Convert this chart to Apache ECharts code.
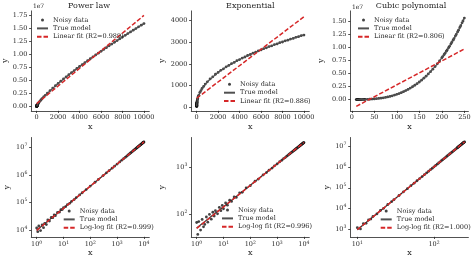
<!DOCTYPE html>
<html>
<head>
<meta charset="utf-8">
<script src="https://cdn.jsdelivr.net/npm/echarts@6/dist/echarts.min.js"></script>
<style>
html, body { margin: 0; padding: 0; background: #fff; }
#container { width: 474px; height: 261px; }
</style>
</head>
<body>
<div id="container"></div>
<script>
// x values shared by the power law and exponential panels
var xs = [1, 1.1, 1.2, 1.4, 1.6, 1.8, 2, 2.3, 2.6, 3, 3.5, 4, 4.5, 5, 6, 7, 8, 9, 10, 12, 14, 17, 20, 25, 30, 40, 50, 70,
    100, 150, 200, 300, 400, 500, 650, 800, 1000, 1250, 1500, 1750, 2000, 2250, 2500, 2750, 3000, 3250, 3500, 3750,
    4000, 4250, 4500, 4750, 5000, 5250, 5500, 5750, 6000, 6250, 6500, 6750, 7000, 7250, 7500, 7750, 8000, 8250, 8500,
    8750, 9000, 9250, 9500, 9750, 10000];
var powNoisy = [12100, 8900, 14300, 9800, 15600, 12400, 17900, 16100, 23800, 21500, 29100, 28600, 35800, 33900, 44700,
    45200, 55800, 56100, 65900, 71800, 84700, 94900, 111500, 130100, 153400, 190600, 229500, 299100, 398600, 550200,
    693500, 958400, 1207000, 1443000, 1779000, 2101000, 2514000, 3001000, 3476000, 3928000, 4375000, 4803000, 5230000,
    5641000, 6052000, 6447000, 6845000, 7230000, 7617000, 7991000, 8370000, 8735000, 9104000, 9464000, 9827000,
    10178000, 10533000, 10881000, 11230000, 11573000, 11918000, 12254000, 12592000, 12926000, 13259000, 13587000,
    13918000, 14242000, 14569000, 14889000, 15212000, 15530000, 15850000];
var expNoisy = [68, 38, 71, 47, 79, 55, 62, 89, 69, 101, 80, 112, 93, 121, 104, 142, 121, 156, 133, 176, 158, 201, 190,
    236, 231, 288, 296, 366, 409, 508, 563, 691, 774, 869, 965, 1073, 1176, 1311, 1410, 1526, 1609, 1708, 1779, 1870,
    1934, 2016, 2073, 2151, 2203, 2275, 2322, 2392, 2437, 2503, 2544, 2608, 2647, 2708, 2744, 2803, 2838, 2895, 2927,
    2983, 3015, 3069, 3099, 3151, 3180, 3231, 3259, 3309, 3335];

var modelX = [1, 2, 5, 10, 20, 50, 100, 200, 500, 1000, 2000, 3000, 4000, 5000, 6000, 7000, 8000, 9000, 10000];
var powModel = [10000, 17410, 36240, 63100, 109900, 228700, 398100, 693100, 1443000, 2512000, 4373000, 6049000,
    7615000, 9103000, 10532000, 11916000, 13258000, 14568000, 15849000];
var expModel = [52, 71, 108, 147, 201, 305, 417, 570, 863, 1180, 1614, 1939, 2208, 2443, 2653, 2844, 3021, 3186, 3341];

var cubX = [10, 11, 12, 13, 14, 15, 16, 18, 20, 22, 25, 28, 30, 35, 40, 45, 50, 55, 60, 65, 70, 75, 80, 85, 90, 95, 100,
    105, 110, 115, 120, 125, 130, 135, 140, 145, 150, 155, 160, 165, 170, 175, 180, 185, 190, 195, 200, 202, 205, 207,
    210, 212, 215, 217, 220, 222, 225, 227, 230, 232, 235, 237, 240, 242, 245, 247, 250];
var cubNoisy = [1240, 1080, 1950, 2010, 2930, 3190, 4280, 5650, 8230, 10410, 15880, 21700, 27150, 42700, 64200, 91000,
    125300, 166100, 216200, 274400, 343300, 421600, 512300, 613900, 729200, 857100, 1000300, 1157400, 1331200,
    1520600, 1728300, 1952900, 2197200, 2460100, 2744300, 3048400, 3375200, 3723600, 4096300, 4491900, 4913200,
    5359100, 5832300, 6331400, 6859200, 7414600, 8000300, 8242400, 8614900, 8869700, 9261200, 9528100, 9938100,
    10218300, 10648300, 10941000, 11390400, 11697100, 12167200, 12487200, 12977600, 13312000, 13824300, 14172500,
    14705900, 15069200, 15625200];
var cubModelX = [10, 20, 30, 40, 50, 60, 70, 80, 90, 100, 110, 120, 130, 140, 150, 160, 170, 180, 190, 200, 210, 220,
    230, 240, 250];
var cubModel = [1000, 8000, 27000, 64000, 125000, 216000, 343000, 512000, 729000, 1000000, 1331000, 1728000, 2197000,
    2744000, 3375000, 4096000, 4913000, 5832000, 6859000, 8000000, 9261000, 10648000, 12167000, 13824000, 15625000];

// fitted lines, end points only
var fitX = [1, 10000];
var cubFitX = [10, 250];
var powLinFit = [500000, 17400000];
var expLinFit = [420, 4180];
var cubLinFit = [-1300000, 9700000];
var powLogFit = [9900, 15900000];
var expLogFit = [51, 3350];
var cubLogFit = [1000, 15600000];

var titles = ['Power law', 'Exponential', 'Cubic polynomial'];
var linNames = ['Linear fit (R2=0.989)', 'Linear fit (R2=0.886)', 'Linear fit (R2=0.806)'];
var logNames = ['Log-log fit (R2=0.999)', 'Log-log fit (R2=0.996)', 'Log-log fit (R2=1.000)'];

// tick positions
var xTicksLin = [0, 2000, 4000, 6000, 8000, 10000];
var yTicksPow = [0, 2500000, 5000000, 7500000, 10000000, 12500000, 15000000, 17500000];
var yTicksExp = [0, 1000, 2000, 3000, 4000];
var xTicksCub = [0, 50, 100, 150, 200, 250];
var yTicksCub = [0, 2500000, 5000000, 7500000, 10000000, 12500000, 15000000];
var xTicksLog = [1, 10, 100, 1000, 10000];
var yTicksPowLog = [1e4, 1e5, 1e6, 1e7];
var yTicksExpLog = [100, 1000];
var xTicksCubLog = [10, 100];
var yTicksCubLog = [1e3, 1e4, 1e5, 1e6, 1e7];

var FONT = 'DejaVu Serif';
var INK = '#262626';
var RED = '#d62728';

function pairs(xa, ya) {
    var out = [];
    for (var i = 0; i < xa.length; i++) out.push([xa[i], ya[i]]);
    return out;
}

function fmtE7(v) { return (v / 1e7).toFixed(2); }
function fmtPlain(v) { return String(v); }
function fmtLog(v) { return '{b|10}{e|' + Math.round(Math.log10(v)) + '}'; }

function makeAxis(gi, type, min, max, ticks, fmt, name, nameGap, isY) {
    var ax = {
        type: type, gridIndex: gi, min: min, max: max,
        name: name, nameLocation: 'middle', nameGap: nameGap,
        nameTextStyle: {fontFamily: FONT, fontSize: 8, color: INK},
        splitLine: {show: false},
        axisLine: {show: true, onZero: false, lineStyle: {color: INK, width: 0.8}},
        axisTick: {show: true, inside: false, length: 2.2, customValues: ticks, lineStyle: {color: INK, width: 0.8}},
        axisLabel: {show: true, customValues: ticks, formatter: fmt, margin: isY ? 4 : 3,
            fontFamily: FONT, fontSize: 6.5, color: INK}
    };
    if (type === 'log') {
        ax.logBase = 10;
        ax.axisLabel.rich = {
            b: {fontFamily: FONT, fontSize: 6.5, color: INK},
            e: {fontFamily: FONT, fontSize: 4.6, color: INK, padding: [0, 0, 5, 0]}
        };
    }
    if (isY) ax.nameRotate = 90;
    return ax;
}

function scatter(name, i, xa, ya) {
    return {name: name, type: 'scatter', xAxisIndex: i, yAxisIndex: i, data: pairs(xa, ya),
        symbolSize: 2.8, itemStyle: {color: '#141414'}, silent: true};
}
function modelLine(name, i, xa, ya, color) {
    return {name: name, type: 'line', xAxisIndex: i, yAxisIndex: i, data: pairs(xa, ya), symbol: 'none',
        lineStyle: {color: color, width: 1.2}, itemStyle: {color: color}, silent: true};
}
function fitLine(name, i, xa, ya) {
    return {name: name, type: 'line', xAxisIndex: i, yAxisIndex: i, data: pairs(xa, ya), symbol: 'none',
        lineStyle: {color: RED, width: 1.5, type: [4.5, 2]}, itemStyle: {color: RED}, silent: true};
}
function legend(left, top, fitName) {
    return {
        orient: 'vertical', left: left, top: top, padding: 0, itemGap: 1.4,
        itemWidth: 11, itemHeight: 3, selectedMode: false,
        textStyle: {fontFamily: FONT, fontSize: 6.5, color: INK},
        data: [
            {name: 'Noisy data'},
            {name: 'True model', itemStyle: {opacity: 0}},
            {name: fitName, itemStyle: {opacity: 0}}
        ]
    };
}

var dom = document.getElementById('container');
var myChart = echarts.init(dom, null, {renderer: 'canvas'});

var option = {
    animation: false,
    backgroundColor: '#fff',
    title: [
        {text: titles[0], left: 89, top: 1.5, textAlign: 'center', padding: 0,
            textStyle: {fontFamily: FONT, fontSize: 8, fontWeight: 'normal', color: INK}},
        {text: titles[1], left: 250.3, top: 1.5, textAlign: 'center', padding: 0,
            textStyle: {fontFamily: FONT, fontSize: 8, fontWeight: 'normal', color: INK}},
        {text: titles[2], left: 411, top: 1.5, textAlign: 'center', padding: 0,
            textStyle: {fontFamily: FONT, fontSize: 8, fontWeight: 'normal', color: INK}}
    ],
    graphic: [
        {type: 'text', left: 33, top: 3.5, style: {text: '1e7', font: '6px "DejaVu Serif"', fill: INK}},
        {type: 'text', left: 352, top: 4, style: {text: '1e7', font: '6px "DejaVu Serif"', fill: INK}}
    ],
    grid: [
        {left: 31.3, top: 10.9, width: 118, height: 99.9, outerBoundsMode: 'none'},
        {left: 191.3, top: 10.9, width: 118, height: 99.9, outerBoundsMode: 'none'},
        {left: 350.4, top: 10.9, width: 118, height: 99.9, outerBoundsMode: 'none'},
        {left: 31.3, top: 137.5, width: 118, height: 99.3, outerBoundsMode: 'none'},
        {left: 191.3, top: 137.5, width: 118, height: 99.3, outerBoundsMode: 'none'},
        {left: 350.4, top: 137.5, width: 118, height: 99.3, outerBoundsMode: 'none'}
    ],
    xAxis: [
        makeAxis(0, 'value', -500, 10500, xTicksLin, fmtPlain, 'x', 12.5, false),
        makeAxis(1, 'value', -500, 10500, xTicksLin, fmtPlain, 'x', 12.5, false),
        makeAxis(2, 'value', -3, 259, xTicksCub, fmtPlain, 'x', 12.5, false),
        makeAxis(3, 'log', 0.631, 15849, xTicksLog, fmtLog, 'x', 12.5, false),
        makeAxis(4, 'log', 0.631, 15849, xTicksLog, fmtLog, 'x', 12.5, false),
        makeAxis(5, 'log', 8.13, 280.5, xTicksCubLog, fmtLog, 'x', 12.5, false)
    ],
    yAxis: [
        makeAxis(0, 'value', -870000, 18270000, yTicksPow, fmtE7, 'y', 20, true),
        makeAxis(1, 'value', -160, 4450, yTicksExp, fmtPlain, 'y', 25, true),
        makeAxis(2, 'value', -2150000, 17000000, yTicksCub, fmtE7, 'y', 25, true),
        makeAxis(3, 'log', 5810, 23000000, yTicksPowLog, fmtLog, 'y', 20, true),
        makeAxis(4, 'log', 33.9, 4266, yTicksExpLog, fmtLog, 'y', 25, true),
        makeAxis(5, 'log', 457, 25100000, yTicksCubLog, fmtLog, 'y', 18.5, true)
    ],
    legend: [
        legend(36, 16.5, linNames[0]),
        legend(223, 80.8, linNames[1]),
        legend(357, 16.5, linNames[2]),
        legend(62.7, 207.5, logNames[0]),
        legend(221, 206.5, logNames[1]),
        legend(379.7, 207.5, logNames[2])
    ],
    series: [
        scatter('Noisy data', 0, xs, powNoisy),
        modelLine('True model', 0, modelX, powModel, '#505050'),
        fitLine(linNames[0], 0, fitX, powLinFit),
        scatter('Noisy data', 1, xs, expNoisy),
        modelLine('True model', 1, modelX, expModel, '#505050'),
        fitLine(linNames[1], 1, fitX, expLinFit),
        scatter('Noisy data', 2, cubX, cubNoisy),
        modelLine('True model', 2, cubModelX, cubModel, '#505050'),
        fitLine(linNames[2], 2, cubFitX, cubLinFit),
        scatter('Noisy data', 3, xs, powNoisy),
        modelLine('True model', 3, modelX, powModel, '#303030'),
        fitLine(logNames[0], 3, fitX, powLogFit),
        scatter('Noisy data', 4, xs, expNoisy),
        modelLine('True model', 4, modelX, expModel, '#303030'),
        fitLine(logNames[1], 4, fitX, expLogFit),
        scatter('Noisy data', 5, cubX, cubNoisy),
        modelLine('True model', 5, cubModelX, cubModel, '#303030'),
        fitLine(logNames[2], 5, cubFitX, cubLogFit)
    ]
};

myChart.setOption(option);
</script>
</body>
</html>
